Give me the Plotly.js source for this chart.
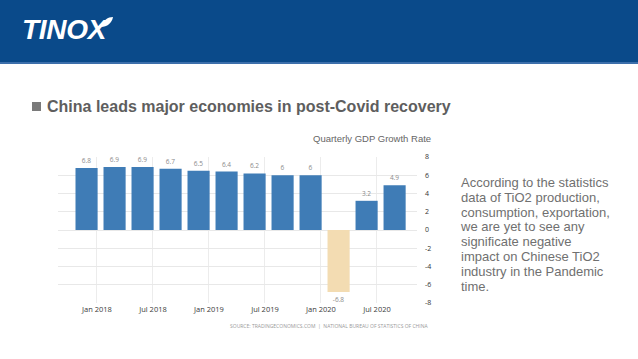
<!DOCTYPE html>
<html>
<head>
<meta charset="utf-8">
<script src="https://cdn.plot.ly/plotly-3.0.1.min.js"></script>
<style>
  html, body { margin: 0; padding: 0; background: #ffffff; }
  #page { position: relative; width: 638px; height: 359px; overflow: hidden; font-family: "Liberation Sans", Arial, sans-serif; }
  #header { position: absolute; left: 0; top: 0; width: 638px; height: 62px; background: #0a4a8a; border-bottom: 2px solid #3c6fab; }
  #logo { position: absolute; left: 22px; top: 14px; color: #ffffff; font-family: "Liberation Sans", Arial, sans-serif; font-weight: bold; font-style: italic; font-size: 28px; letter-spacing: -0.3px; line-height: 32px; }
  #leaf { position: absolute; left: 100px; top: 16px; }
  #bullet { position: absolute; left: 32px; top: 102px; width: 9px; height: 9px; background: #7a7a7a; }
  #title { position: absolute; left: 47px; top: 97px; font-size: 16px; font-weight: bold; color: #5e5e5e; line-height: 20px; white-space: nowrap; }
  #para { position: absolute; left: 461px; top: 176px; width: 175px; font-size: 13px; line-height: 14.8px; color: #707070; white-space: nowrap; }
  #chart { position: absolute; left: 0; top: 0; width: 638px; height: 359px; }
</style>
</head>
<body>
<div id="page">
  <div id="header">
    <div id="logo">TINOX</div>
    <svg id="leaf" width="14" height="12" viewBox="0 0 14 12"><path d="M1,11 C3,4 8,1 13,1 C12,7 7,11 1,11 Z" fill="#ffffff"/></svg>
  </div>
  <div id="bullet"></div>
  <div id="title">China leads major economies in post-Covid recovery</div>
  <div id="chart"></div>
  <div id="para">According to the statistics<br>data of TiO2 production,<br>consumption, exportation,<br>we are yet to see any<br>significate negative<br>impact on Chinese TiO2<br>industry in the Pandemic<br>time.</div>
</div>
<script>
// Quarterly GDP growth rate (YoY, %), Q4 2017 .. Q3 2020
const quarters = ['2017 Q4','2018 Q1','2018 Q2','2018 Q3','2018 Q4','2019 Q1','2019 Q2','2019 Q3','2019 Q4','2020 Q1','2020 Q2','2020 Q3'];
const gdpGrowth = [6.8, 6.9, 6.9, 6.7, 6.5, 6.4, 6.2, 6.0, 6.0, -6.8, 3.2, 4.9];
const tickLabels = ['Jan 2018','Jul 2018','Jan 2019','Jul 2019','Jan 2020','Jul 2020'];
const yTicks = [-8, -6, -4, -2, 0, 2, 4, 6, 8];

const idx = quarters.map((q, i) => i);
const colors = gdpGrowth.map(v => v >= 0 ? '#3f7cb6' : '#f3dcb2');
const labels = gdpGrowth.map(v => String(v));

const trace = {
  type: 'bar',
  x: idx,
  y: gdpGrowth,
  width: 0.79,
  marker: { color: colors, line: { width: 0 } },
  text: labels,
  textposition: 'outside',
  textangle: 0,
  constraintext: 'none',
  cliponaxis: false,
  textfont: { family: 'Open Sans, sans-serif', size: 6.5, color: '#8a8a8a' },
  hoverinfo: 'skip'
};

const layout = {
  width: 638,
  height: 359,
  margin: { l: 58, r: 221, t: 157, b: 56, pad: 0 },
  paper_bgcolor: 'rgba(0,0,0,0)',
  plot_bgcolor: 'rgba(0,0,0,0)',
  showlegend: false,
  xaxis: {
    range: [-1.02, 11.8],
    tickmode: 'array',
    tickvals: tickLabels.map((t, k) => 0.37 + 2 * k),
    ticktext: tickLabels,
    showgrid: true,
    gridcolor: '#ececec',
    gridwidth: 1,
    zeroline: false,
    showline: false,
    ticks: '',
    tickfont: { family: 'Open Sans, sans-serif', size: 7.5, color: '#3a3a3a' },
    fixedrange: true
  },
  yaxis: {
    side: 'right',
    range: [-8, 8],
    tickmode: 'array',
    tickvals: yTicks,
    ticktext: yTicks.map(String),
    showgrid: true,
    gridcolor: '#e8e8e8',
    gridwidth: 1,
    zeroline: false,
    showline: false,
    ticks: '',
    ticklabelstandoff: 7,
    tickfont: { family: 'Open Sans, sans-serif', size: 7, color: '#333333' },
    fixedrange: true
  },
  annotations: [
    {
      text: 'Quarterly GDP Growth Rate',
      xref: 'paper', yref: 'paper',
      x: 1.045, y: 1.13,
      xanchor: 'right', yanchor: 'middle',
      showarrow: false,
      font: { family: 'Liberation Sans, Arial, sans-serif', size: 9.5, color: '#666666' }
    },
    {
      text: 'SOURCE: TRADINGECONOMICS.COM  |  NATIONAL BUREAU OF STATISTICS OF CHINA',
      xref: 'paper', yref: 'paper',
      x: 1.035, y: -0.16,
      xanchor: 'right', yanchor: 'middle',
      showarrow: false,
      font: { family: 'Open Sans, sans-serif', size: 5, color: '#9a9a9a' }
    }
  ]
};

Plotly.newPlot('chart', [trace], layout, { displayModeBar: false, staticPlot: true });
</script>
</body>
</html>
